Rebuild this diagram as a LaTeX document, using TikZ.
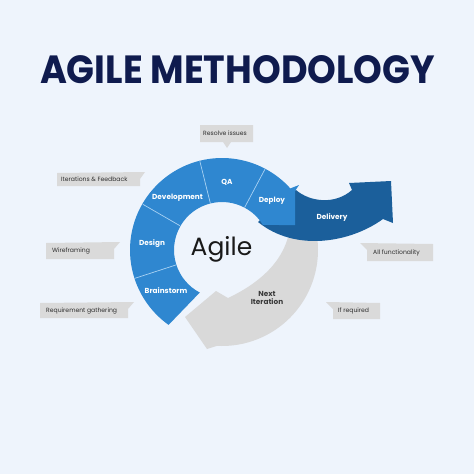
\documentclass[tikz,border=0pt]{standalone}
\usepackage{fontspec}
\setmainfont{Poppins}
\usepackage{graphicx}
\usetikzlibrary{calc}
\definecolor{bg}{HTML}{EEF4FC}
\definecolor{titlecol}{HTML}{0F1B4E}
\definecolor{segblue}{HTML}{2F87D0}
\definecolor{seplight}{HTML}{A6D0F2}
\definecolor{delblue}{HTML}{1B5F9B}
\definecolor{iterg}{HTML}{D9D9D9}
\definecolor{callgray}{HTML}{DADADA}
\definecolor{calltxt}{HTML}{2E2E2E}
\definecolor{darktxt}{HTML}{3A3A3A}
\tikzset{
  seg/.style={fill=segblue},
  sepline/.style={draw=seplight, line width=0.7pt},
  callout/.style={fill=callgray},
  calltext/.style={font=\fontsize{6.1}{6.5}\selectfont, text=calltxt, inner sep=0pt, anchor=west},
  seglabel/.style={font=\fontsize{7.3}{8}\selectfont\bfseries, text=white, inner sep=0pt},
}
\begin{document}
\begin{tikzpicture}[x=1pt,y=1pt]
\fill[bg] (0,0) rectangle (474,-474);
\useasboundingbox (0,0) rectangle (474,-474);
\coordinate (c) at (222,-250);

% title
\node[inner sep=0pt, text=titlecol] (title) at (237.5,-69.5) {\resizebox{395pt}{28pt}{\bfseries AGILE METHODOLOGY}};

% gray next-iteration arrow
\fill[iterg] (290,-226) -- ($(c)+(10:96)$) arc[start angle=10, end angle=-93, radius=96]
  -- (207,-349) -- (185,-317) -- (216,-291) -- (228,-298)
  .. controls (262,-282) and (287,-258) .. (290,-226) -- cycle;

% delivery arrow
\fill[delblue] (258,-222) -- (292,-192) -- (296,-190)
  .. controls (310,-202) and (335,-205) .. (352,-190)
  -- (349,-183) -- (391,-181) -- (393,-223) -- (383,-219)
  .. controls (350,-243) and (295,-252) .. (258,-222) -- cycle;

% blue ring segments
\fill[seg] ($(c)+(234.5:92)$) arc[start angle=234.5, end angle=198, radius=92]
  -- ($(c)+(198:48)$) arc[start angle=198, end angle=242.4, radius=48] -- cycle;
\fill[seg] ($(c)+(198:92)$) arc[start angle=198, end angle=150, radius=92]
  -- ($(c)+(150:48)$) arc[start angle=150, end angle=198, radius=48] -- cycle;
\fill[seg] ($(c)+(150:92)$) arc[start angle=150, end angle=104, radius=92]
  -- ($(c)+(104:48)$) arc[start angle=104, end angle=150, radius=48] -- cycle;
\fill[seg] ($(c)+(104:92)$) arc[start angle=104, end angle=62, radius=92]
  -- ($(c)+(62:48)$) arc[start angle=62, end angle=104, radius=48] -- cycle;
\fill[seg] ($(c)+(62:92)$) arc[start angle=62, end angle=42, radius=92]
  -- (299,-185) -- (295,-191) -- (295,-225) -- ($(c)+(31.4:48)$)
  arc[start angle=31.4, end angle=62, radius=48] -- cycle;
% separators
\foreach \a in {198,150,104,62} {
  \draw[sepline] ($(c)+(\a:48.5)$) -- ($(c)+(\a:91.5)$);
}

% ring labels
\node[seglabel] (brain) at (166,-291) {Brainstorm};
\node[seglabel] (design) at (152,-244) {Design};
\node[seglabel] (dev) at (177.5,-198) {Development};
\node[seglabel] (qa) at (227,-182) {QA};
\node[seglabel] (deploy) at (272,-201) {Deploy};
\node[seglabel] (delivery) at (332,-218) {Delivery};
\node[font=\fontsize{7.3}{8.5}\selectfont\bfseries, text=darktxt, align=center, inner sep=0pt] (next) at (267,-298) {Next\\Iteration};
\node[font=\fontsize{25}{25}\selectfont, text=black!90, inner sep=0pt, anchor=base] (agile) at (221.5,-255) {Agile};

% callouts
\fill[callout] (200,-125) -- (253,-125) -- (253,-142) -- (231,-142) -- (227,-148) -- (223,-142) -- (200,-142) -- cycle;
\node[calltext] (resolve) at (203,-133.5) {Resolve issues};

\fill[callout] (57,-173) -- (145,-172) -- (140,-179) -- (140,-186) -- (57,-186) -- cycle;
\node[calltext] (iter) at (61,-179.5) {Iterations \& Feedback};

\fill[callout] (46,-243) -- (120,-242) -- (114,-249) -- (114,-259) -- (46,-259) -- cycle;
\node[calltext] (wire) at (52,-251) {Wireframing};

\fill[callout] (40,-303) -- (134,-302) -- (128,-309) -- (128,-318) -- (40,-318) -- cycle;
\node[calltext] (req) at (46,-310.5) {Requirement gathering};

\fill[callout] (360,-243) -- (433,-244) -- (433,-261) -- (367,-261) -- (367,-250) -- cycle;
\node[calltext] (allf) at (373,-252.5) {All functionality};

\fill[callout] (326,-302) -- (380,-303) -- (380,-319) -- (333,-319) -- (333,-309) -- cycle;
\node[calltext] (ifreq) at (338,-311) {If required};
\end{tikzpicture}
\end{document}
